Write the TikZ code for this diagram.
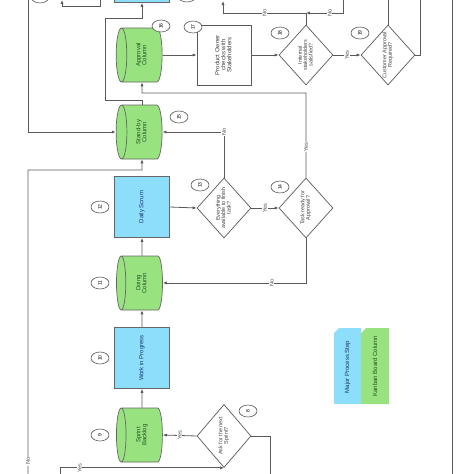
\documentclass[tikz,border=0pt]{standalone}
\usepackage{fontspec}
\setmainfont{Liberation Sans}
\usetikzlibrary{arrows.meta,positioning,shapes.geometric}

\definecolor{stepblue}{RGB}{140,222,250}
\definecolor{colgreen}{RGB}{152,226,128}
\definecolor{linegray}{RGB}{90,90,90}
\definecolor{stepink}{RGB}{25,50,115}
\definecolor{colink}{RGB}{30,80,30}

\newcommand{\vtxt}[1]{\rotatebox{90}{\def\arraystretch{0.85}\begin{tabular}{@{}c@{}}#1\end{tabular}}}

\begin{document}
\begin{tikzpicture}[x=1pt,y=-1pt,
  font=\fontsize{6}{6.5}\selectfont,
  line/.style={draw=linegray,line width=0.8pt},
  arr/.style={line,-{Latex[length=4pt,width=3.2pt]}},
  column/.style={cylinder,shape border rotate=180,aspect=0.45,draw=black!60,line width=0.7pt,
    fill=colgreen,text=colink,minimum width=54pt,minimum height=46pt,inner sep=0pt},
  stepbox/.style={rectangle,draw=black!60,line width=0.7pt,fill=stepblue,text=stepink,
    minimum width=55pt,minimum height=61pt,inner sep=0pt},
  notebox/.style={rectangle,draw=linegray,line width=0.7pt,fill=white,text=black!75,
    minimum width=54pt,minimum height=60pt,inner sep=0pt},
  decision/.style={diamond,draw=linegray,line width=0.7pt,fill=white,text=black!75,
    minimum width=54pt,minimum height=60pt,inner sep=0pt,aspect=0.9,
    font=\fontsize{5.4}{6}\selectfont},
  badge/.style={ellipse,draw=black!65,line width=0.6pt,fill=white,rotate=90,
    minimum width=12pt,minimum height=18pt,inner sep=0pt,font=\fontsize{5}{5}\selectfont},
  lbl/.style={fill=white,inner sep=0.6pt,rotate=90,text=black!70,font=\fontsize{5.5}{5.5}\selectfont}]
  \useasboundingbox (0,0) rectangle (474,474);
  \clip (0,0) rectangle (474,474);

  % board columns and process steps
  \node[stepbox] (prevstep) at (142,-28) {};
  \node[column] (approval) at (142,55) {\vtxt{Approval\\Column}};
  \node[column] (standby) at (142,132) {\vtxt{Stand-by\\Column}};
  \node[stepbox] (scrum) at (142,207) {\vtxt{Daily Scrum}};
  \node[column] (doing) at (142,283) {\vtxt{Doing\\Column}};
  \node[stepbox] (wip) at (142,358) {\vtxt{Work in Progress}};
  \node[column] (backlog) at (142,435) {\vtxt{Sprint\\Backlog}};
  \node[notebox] (pocheck) at (224,55) {\vtxt{Product Owner\\checks with\\Stakeholders}};

  % decisions
  \node[decision] (avail) at (224,208) {\vtxt{Everything\\available to finish\\task?}};
  \node[decision] (ready) at (306,208) {\vtxt{Task ready for\\Approval?}};
  \node[decision] (internal) at (306,55) {\vtxt{Internal\\stakeholders\\satisfied?}};
  \node[decision] (customer) at (388,55) {\vtxt{Customer Approval\\Required?}};
  \node[decision,minimum height=63pt] (nextsprint) at (224,436) {\vtxt{Ask for the next\\Sprint?}};

  % step numbers
  \node[badge] (ntop) at (40,-3) {};
  \node[badge] (nprev) at (187,-4) {};
  \node[badge] (n8) at (248,411) {8};
  \node[badge] (n9) at (100,435) {9};
  \node[badge] (n10) at (100,358) {10};
  \node[badge] (n11) at (100,283) {11};
  \node[badge] (n12) at (100,207) {12};
  \node[badge] (n13) at (200,185) {13};
  \node[badge] (n14) at (280,187) {14};
  \node[badge] (n15) at (179,117) {15};
  \node[badge] (n16) at (161,26) {16};
  \node[badge] (n17) at (193,27) {17};
  \node[badge] (n18) at (280,33) {18};
  \node[badge] (n19) at (360,33) {19};

  % legend
  \fill[stepblue] (334,404) -- (334,333) -- (339,328) -- (361,328) -- (361,404) -- cycle;
  \fill[colgreen] (361,404) -- (361,333) -- (366,328) -- (389,328) -- (389,404) -- cycle;
  \node[rotate=90,text=stepink] (keystep) at (347.5,367) {Major Process Step};
  \node[rotate=90,text=colink] (keycol) at (375,366) {Kanban Board Column};

  % loose ends
  \coordinate (tlA) at (100,-5);
  \coordinate (tlB) at (62,6);
  \coordinate (tlC) at (62,0);
  \coordinate (leftin) at (28,-5);
  \coordinate (leftbot) at (28,480);
  \coordinate (sbbelow) at (142,170);
  \coordinate (sbturn) at (105,100);
  \coordinate (sbtop) at (142,18);
  \coordinate (apprin) at (142,93);
  \coordinate (nojoin) at (306,13);
  \coordinate (upA) at (223,1);
  \coordinate (topB) at (343,-5);
  \coordinate (topC) at (420,-5);
  \coordinate (railtop) at (452,-5);
  \coordinate (railbot) at (452,480);
  \coordinate (nsdown) at (270,480);
  \coordinate (yesbot) at (60,480);

  % flow
  \draw[arr] (tlA) |- (tlB) -- (tlC);
  \draw[arr] (backlog.north) -- (wip.south);
  \draw[arr] (wip.north) -- (doing.south);
  \draw[arr] (doing.north) -- (scrum.south);
  \draw[arr] (scrum.east) -- (avail.west);
  \draw[arr] (avail.east) -- node[lbl]{Yes} (ready.west);
  \draw[arr] (avail.north) |- node[lbl]{No} (standby.east);
  \draw[arr] (ready.north) -- node[lbl,pos=0.36]{Yes} (ready.north |- apprin) -- (apprin) -- (approval.south);
  \draw[arr] (ready.south) |- node[lbl,pos=0.62]{No} (doing.east);
  \draw[arr] (approval.east) -- (pocheck.west);
  \draw[arr] (pocheck.east) -- (internal.west);
  \draw[arr] (internal.east) -- node[lbl]{Yes} (customer.west);
  \draw[arr] (internal.north) -- (nojoin) -| node[lbl,pos=0.25]{No} (upA);
  \draw[arr] (topB) |- node[lbl,pos=0.68]{No} (nojoin);
  \draw[line] (customer.north) -- (customer.north |- topB);
  \draw[line] (customer.east) -| (topC);
  \draw[line] (railtop) -- (railbot);
  \draw[arr] (standby.north) |- (sbturn) |- (sbtop) -- (prevstep.south);
  \draw[arr] (leftin) |- (standby.west);
  \draw[arr] (leftbot) -- node[lbl,pos=0.06]{No} (leftbot |- sbbelow) -- (sbbelow) -- (standby.south);
  \draw[arr] (nextsprint.west) -- node[lbl]{Yes} (backlog.east);
  \draw[line] (nextsprint.east) -| (nsdown);
  \draw[arr] (yesbot) |- node[lbl,pos=0.56]{Yes} (nextsprint.south);
\end{tikzpicture}
\end{document}
